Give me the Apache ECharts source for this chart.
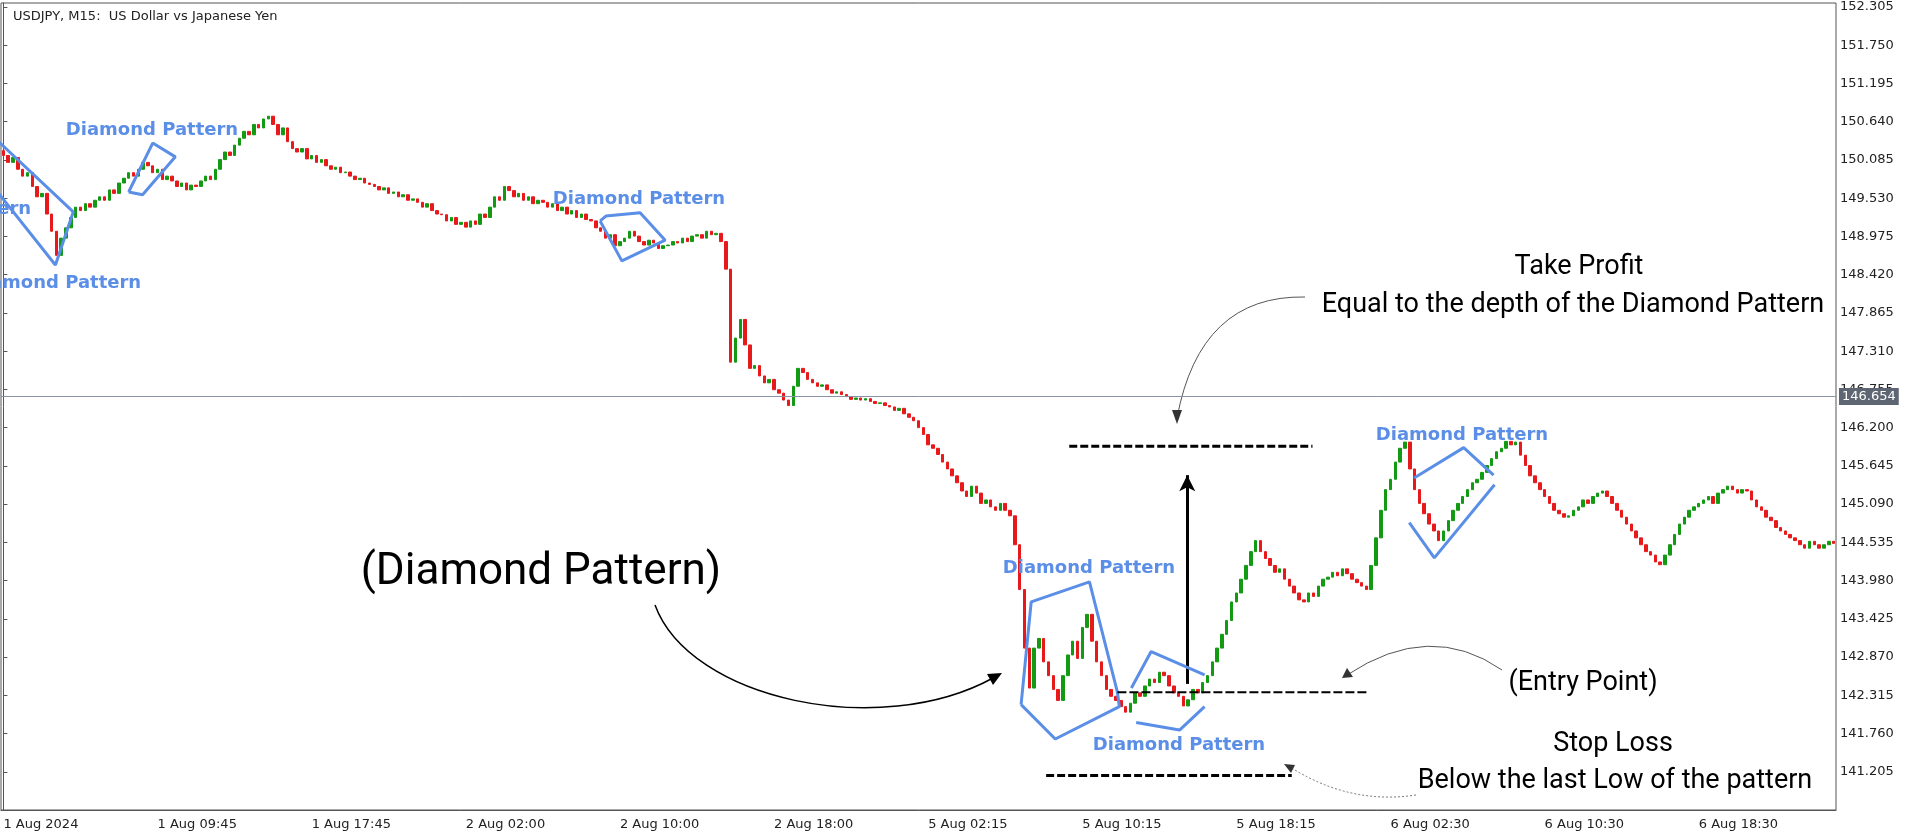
<!DOCTYPE html>
<html><head><meta charset="utf-8">
<script src="https://cdn.jsdelivr.net/npm/echarts@6/dist/echarts.min.js"></script>
<style>html,body{margin:0;padding:0;background:#fff}#c{width:1920px;height:840px}</style>
</head><body><div id="c"></div>
<script>
const xTickLabels = ['1 Aug 2024','1 Aug 09:45','1 Aug 17:45','2 Aug 02:00','2 Aug 10:00','2 Aug 18:00','5 Aug 02:15','5 Aug 10:15','5 Aug 18:15','6 Aug 02:30','6 Aug 10:30','6 Aug 18:30'];
const yTickLabels = ['141.205','141.760','142.315','142.870','143.425','143.980','144.535','145.090','145.645','146.200','146.755','147.310','147.865','148.420','148.975','149.530','150.085','150.640','151.195','151.750','152.305'];
const firstOpen = 150.22;
const closes = [
150.15,150.05,150.12,149.95,149.85,149.90,149.70,149.55,149.60,149.30,149.05,148.70,
148.95,149.10,149.25,149.40,
149.35,149.45,149.40,149.50,149.55,
149.50,149.65,149.60,149.75,149.82,
149.90,149.85,149.95,150.05,150.00,
149.90,149.95,149.80,149.85,149.78,
149.70,149.75,149.65,149.72,149.70,
149.78,149.85,149.80,149.95,150.09,
150.20,150.15,150.30,150.40,150.50,
150.45,150.60,150.55,150.68,150.72,150.60,
150.45,150.55,150.35,150.25,
150.20,150.25,150.10,150.15,150.05,150.09,
150.00,149.95,149.98,149.90,149.91,
149.85,149.80,149.82,149.75,149.73,
149.70,149.65,149.68,149.60,149.62,149.55,149.58,149.50,149.52,149.47,
149.40,149.45,149.35,149.30,149.29,149.20,149.25,149.15,149.18,149.11,
149.20,149.15,149.30,149.25,149.40,149.55,149.50,149.70,149.64,
149.55,149.60,149.50,149.55,149.45,149.50,149.47,
149.40,149.45,149.35,149.40,149.30,149.35,149.25,149.30,149.22,149.20,
149.10,149.05,148.95,149.00,148.84,
148.90,148.95,149.05,148.98,148.90,148.85,148.92,148.88,148.80,148.84,
148.85,148.90,148.88,148.95,148.90,148.98,149.00,148.95,149.05,149.00,149.02,
148.90,148.50,
147.15,147.50,147.77,147.40,147.06,
147.10,146.95,146.85,146.90,146.75,146.70,146.60,146.52,
146.80,147.06,147.00,146.90,146.85,146.80,146.82,146.75,146.70,146.72,146.68,146.65,146.61,
146.63,146.60,146.62,146.58,146.55,146.56,146.52,146.50,146.45,146.48,146.40,146.35,
146.30,146.20,146.10,145.95,145.90,145.81,145.70,145.60,145.50,145.40,145.28,
145.20,145.35,145.25,145.10,145.15,145.05,145.00,145.10,145.00,144.92,
144.50,143.85,143.00,142.42,
143.00,143.14,142.80,142.60,142.40,142.24,
142.60,142.90,143.10,142.85,143.30,143.49,
143.10,142.80,142.60,142.40,142.30,142.24,142.15,142.07,
142.20,142.35,142.30,142.45,142.55,142.50,142.65,142.60,
142.45,142.35,142.30,142.16,142.25,142.40,142.35,142.50,142.60,
142.80,143.00,143.20,143.40,143.67,143.80,144.00,144.20,144.40,144.56,
144.40,144.30,144.20,144.10,144.15,144.00,143.90,143.80,143.70,143.67,
143.80,143.75,143.90,144.00,144.03,
144.10,144.05,144.15,144.08,144.00,143.95,143.90,143.85,
144.20,144.60,145.00,145.30,145.45,145.70,145.90,145.99,
145.60,145.30,145.10,144.95,144.80,144.70,144.56,
144.70,144.85,145.00,145.10,145.20,145.30,145.40,145.45,
145.55,145.65,145.75,145.85,145.90,146.00,145.95,145.99,
145.80,145.65,145.50,145.40,145.30,145.20,145.10,145.00,144.95,144.90,144.92,
145.00,145.05,145.15,145.10,145.20,145.25,145.28,
145.20,145.10,145.00,144.90,144.80,144.70,144.60,144.50,144.40,144.35,144.25,144.21,
144.35,144.50,144.65,144.80,144.90,145.00,145.05,145.10,
145.15,145.20,145.10,145.25,145.30,145.35,145.30,145.25,145.30,145.28,
145.15,145.05,145.00,144.90,144.85,144.75,144.70,144.65,144.60,144.56,
144.50,144.45,144.55,144.50,144.45,144.50,144.55,144.52
];
const currentPrice = 146.654;
// annotation shapes in (bar index, price)
const diamond1 = [[-1,150.35],[14.5,149.33],[10.8,148.56],[-1,149.6]];
const diamond2 = [[26,149.62],[31,150.33],[35.7,150.13],[28.9,149.58],[26,149.62]];
const diamond3 = [[123.9,149.20],[125.1,149.27],[132.2,149.32],[137.4,148.92],[128.4,148.62],[123.9,149.20]];
const diamond4 = [[211.3,142.18],[213.4,143.67],[225.5,143.96],[231.3,142.36],[231.7,142.15],[218.4,141.68],[211.3,142.18]];
const diamond5top = [[234.2,142.42],[238.3,142.95],[249.4,142.61]];
const diamond5bot = [[235.2,141.92],[244.2,141.81],[249.4,142.15]];
const diamond6top = [[292.9,145.47],[303.2,145.91],[309.4,145.51]];
const diamond6bot = [[291.9,144.82],[297.1,144.31],[309.6,145.37]];
const entryLine = [[231.3,142.36],[283.6,142.36]];
const tpLine = [[221.3,145.93],[271.8,145.93]];
const slLine = [[216.5,141.15],[267.5,141.15]];
const arrowUp = [[245.8,142.48],[245.8,145.51]];

const cats = closes.map((_, i) => i);
const candles = closes.map((c, i) => {
  const o = i === 0 ? firstOpen : closes[i-1];
  return [o, c, Math.min(o,c), Math.max(o,c)];
});
const blue = '#5b8ee6';
function poly(d, color, width, type){
  return {type:'line', xAxisIndex:1, yAxisIndex:0, data:d, symbol:'none', silent:true,
    lineStyle:{color:color, width:width, type:type||'solid'}, z:5, animation:false};
}
const chart = echarts.init(document.getElementById('c'));
const labelFont = {fontFamily:'DejaVu Sans', fontSize:13, color:'#222'};
chart.setOption({
  animation:false,
  backgroundColor:'#fff',
  title:{text:'USDJPY, M15:  US Dollar vs Japanese Yen', left:8, top:5,
    textStyle:{fontFamily:'DejaVu Sans', fontSize:13, fontWeight:'normal', color:'#222'}},
  grid:{left:1, right:84, top:3, bottom:30, show:true, borderColor:'#555', borderWidth:1},
  xAxis:[{type:'category', data:cats, boundaryGap:true,
    axisLine:{lineStyle:{color:'#555'}},
    axisTick:{alignWithLabel:true, interval:(i)=>i%32===0, length:5, lineStyle:{color:'#555'}},
    axisLabel:{interval:(i)=>i%32===0, align:'left', margin:8, ...labelFont,
      formatter:(v, i)=> xTickLabels[Math.round(i/32)] || ''},
    splitLine:{show:false}},
    {type:'value', min:-0.5, max:closes.length-0.5, show:false}],
  yAxis:{type:'value', position:'right', min:140.65, max:152.363, interval:0.555, scale:true,
    axisLine:{show:true, lineStyle:{color:'#555'}},
    axisTick:{show:true, length:4, lineStyle:{color:'#555'}},
    axisLabel:{margin:4, ...labelFont, showMinLabel:false, showMaxLabel:false,
      formatter:(v)=>{const s=v.toFixed(3); return yTickLabels.includes(s)?s:'';}},
    splitLine:{show:false}},
  series:[
    {type:'candlestick', data:candles, barWidth:3,
      itemStyle:{color:'#139a13', color0:'#e8191b', borderColor:'#139a13', borderColor0:'#e8191b', borderWidth:1},
      markLine:{silent:true, symbol:'none', data:[{yAxis:currentPrice}],
        lineStyle:{color:'#8a93a6', width:1, type:'solid'},
        label:{position:'end', formatter:currentPrice.toFixed(3), backgroundColor:'#5f6673', color:'#fff',
          fontFamily:'DejaVu Sans', fontSize:13, padding:[2,3], distance:3}}},
    poly(diamond1, blue, 3), poly(diamond2, blue, 3), poly(diamond3, blue, 3), poly(diamond4, blue, 3),
    poly(diamond5top, blue, 3), poly(diamond5bot, blue, 3), poly(diamond6top, blue, 3), poly(diamond6bot, blue, 3),
    poly(entryLine, '#000', 2, [9,3]), poly(tpLine, '#000', 3, [8,3]), poly(slLine, '#000', 3, [8,3]),
    {type:'line', xAxisIndex:1, yAxisIndex:0, data:[], silent:true,
      markLine:{silent:true, symbol:['none','arrow'], symbolSize:[12,16], label:{show:false},
        lineStyle:{color:'#000', width:3, type:'solid'},
        data:[[{coord:arrowUp[0]},{coord:arrowUp[1]}]]}}
  ],
  graphic:[
    ...[[152,130],[639,199],[55,283],[-55,209],[1089,568],[1179,745],[1462,435]].map(p=>({
      type:'text', x:p[0], y:p[1], z:20, style:{text:'Diamond Pattern', fill:blue, font:'bold 18px "DejaVu Sans"', textAlign:'center', textVerticalAlign:'middle'}})),
    {type:'text', x:541, y:573, style:{text:'(Diamond Pattern)', fill:'#000', font:'44px Roboto', textAlign:'center', textVerticalAlign:'middle'}},
    {type:'text', x:1579, y:267, style:{text:'Take Profit', fill:'#000', font:'27px Roboto', textAlign:'center', textVerticalAlign:'middle'}},
    {type:'text', x:1573, y:305, style:{text:'Equal to the depth of the Diamond Pattern', fill:'#000', font:'27px Roboto', textAlign:'center', textVerticalAlign:'middle'}},
    {type:'text', x:1583, y:683, style:{text:'(Entry Point)', fill:'#000', font:'27px Roboto', textAlign:'center', textVerticalAlign:'middle'}},
    {type:'text', x:1613, y:744, style:{text:'Stop Loss', fill:'#000', font:'27px Roboto', textAlign:'center', textVerticalAlign:'middle'}},
    {type:'text', x:1615, y:781, style:{text:'Below the last Low of the pattern', fill:'#000', font:'27px Roboto', textAlign:'center', textVerticalAlign:'middle'}},
    {type:'bezierCurve', shape:{x1:1305,y1:297,x2:1177,y2:418,cpx1:1200,cpy1:295}, style:{stroke:'#555', lineWidth:1, fill:null}},
    {type:'polygon', shape:{points:[[1172,410],[1182,410],[1177,424]]}, style:{fill:'#333'}},
    {type:'bezierCurve', shape:{x1:1502,y1:670,x2:1347,y2:675,cpx1:1430,cpy1:620}, style:{stroke:'#555', lineWidth:1, fill:null}},
    {type:'polygon', shape:{points:[[1342,678],[1353,677],[1347,668]]}, style:{fill:'#333'}},
    {type:'bezierCurve', shape:{x1:1416,y1:795,x2:1290,y2:767,cpx1:1350,cpy1:805}, style:{stroke:'#777', lineWidth:1, lineDash:[2,2], fill:null}},
    {type:'polygon', shape:{points:[[1284,764],[1295,765],[1291,773]]}, style:{fill:'#333'}},
    {type:'bezierCurve', shape:{x1:655,y1:605,x2:993,y2:678,cpx1:690,cpy1:700,cpx2:880,cpy2:740}, style:{stroke:'#000', lineWidth:1.5, fill:null}},
    {type:'polygon', shape:{points:[[1002,673],[993,685],[987,674]]}, style:{fill:'#000'}}
  ]
});
</script></body></html>
